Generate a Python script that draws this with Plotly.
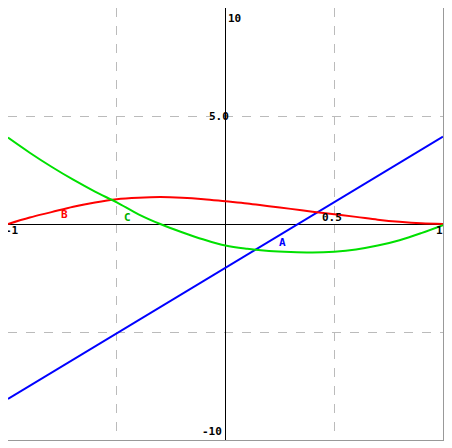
import plotly.graph_objects as go

# line A (blue)
a_x = [-1, 1]
a_y = [-8.1, 4.05]

# curve B (red)
b_x = [-1, -0.9, -0.8, -0.7, -0.6, -0.5, -0.4, -0.3, -0.2, -0.1, 0,
       0.1, 0.2, 0.3, 0.4, 0.5, 0.6, 0.7, 0.8, 0.9, 1]
b_y = [0, 0.3, 0.55, 0.8, 1.0, 1.15, 1.22, 1.25, 1.22, 1.15, 1.05,
       0.95, 0.82, 0.7, 0.57, 0.45, 0.33, 0.2, 0.1, 0.03, 0.0]

# curve C (green)
c_x = b_x
c_y = [4.0, 3.3, 2.65, 2.05, 1.5, 1.0, 0.45, 0.0, -0.38, -0.72, -1.0,
       -1.15, -1.25, -1.3, -1.32, -1.28, -1.18, -1.0, -0.75, -0.42, -0.05]

font = dict(family="DejaVu Sans Mono", size=11)

fig = go.Figure()
fig.add_trace(go.Scatter(x=a_x, y=a_y, mode='lines', line=dict(color='#0000ff', width=2)))
fig.add_trace(go.Scatter(x=b_x, y=b_y, mode='lines', line=dict(color='#ff0000', width=2, shape='spline')))
fig.add_trace(go.Scatter(x=c_x, y=c_y, mode='lines', line=dict(color='#00e000', width=2, shape='spline')))

# curve labels
fig.add_annotation(x=-0.74, y=0.45, text="<b>B</b>", showarrow=False, font=dict(font, color='#ff0000'))
fig.add_annotation(x=-0.45, y=0.3, text="<b>C</b>", showarrow=False, font=dict(font, color='#00b000'))
fig.add_annotation(x=0.26, y=-0.85, text="<b>A</b>", showarrow=False, font=dict(font, color='#0000ff'))

# tick labels
ticks = [(0.04, 9.5, "10"), (-0.03, 5.0, "5.0"), (-0.06, -9.6, "-10"),
         (-0.98, -0.3, "-1"), (0.49, 0.3, "0.5"), (0.985, -0.3, "1")]
for tx, ty, tt in ticks:
    fig.add_annotation(x=tx, y=ty, text="<b>" + tt + "</b>", showarrow=False, font=dict(font, color='black'))

fig.update_layout(
    width=444, height=440, showlegend=False,
    margin=dict(l=0, r=9, t=0, b=8),
    plot_bgcolor='white', paper_bgcolor='white',
    xaxis=dict(range=[-1, 1], tickvals=[-0.5, 0.5], showticklabels=False,
               showgrid=True, gridcolor='#bbbbbb', griddash='dash',
               zeroline=True, zerolinecolor='black', zerolinewidth=1,
               showline=True, mirror=True, linecolor='#999999'),
    yaxis=dict(range=[-10, 10], tickvals=[-5, 5], showticklabels=False,
               showgrid=True, gridcolor='#bbbbbb', griddash='dash',
               zeroline=True, zerolinecolor='black', zerolinewidth=1,
               showline=True, mirror=True, linecolor='#999999'),
)

fig.write_html("out.html")
